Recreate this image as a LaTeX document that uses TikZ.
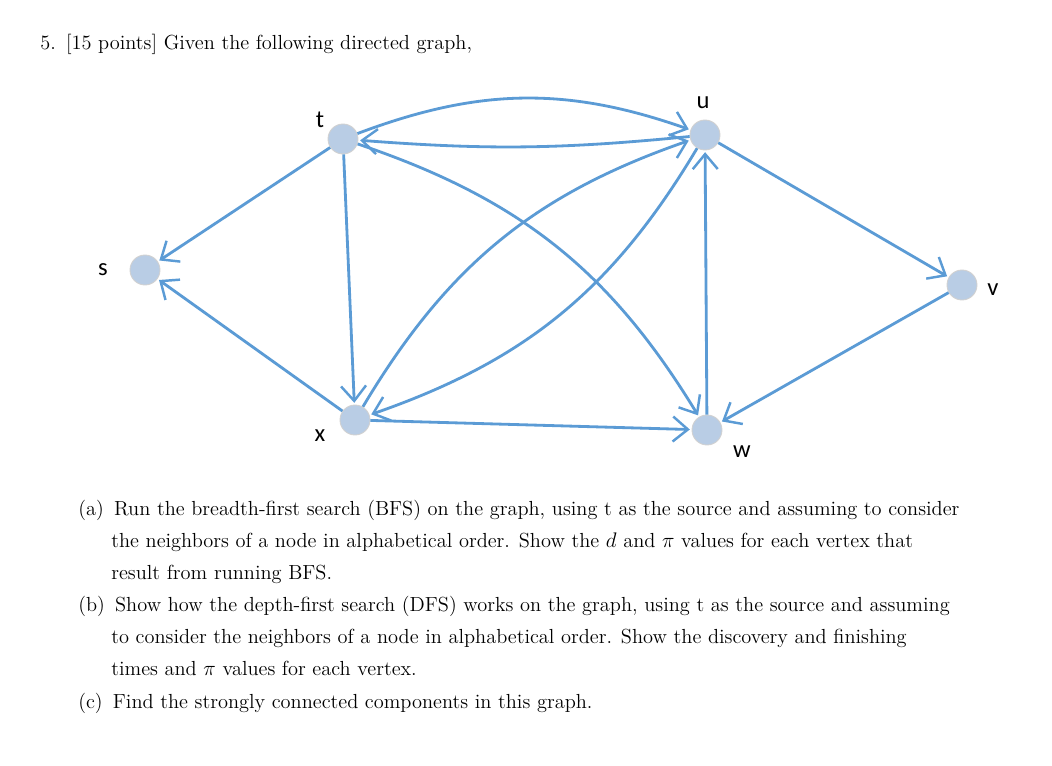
\documentclass[tikz,border=0pt]{standalone}
\usepackage{fontspec}
\newfontfamily\lab{Carlito}
\usetikzlibrary{arrows.meta}
\definecolor{edge}{HTML}{5B9BD5}
\definecolor{vfill}{HTML}{B9CDE5}
\begin{document}
\begin{tikzpicture}[x=0.02cm,y=-0.02cm,
  vert/.style={circle,fill=vfill,draw=black!18,line width=0.5pt,minimum size=0.6cm,inner sep=0pt},
  vlab/.style={font=\lab\fontsize{14}{14}\selectfont},
  arr/.style={draw=edge,line width=1.6pt,-{Straight Barb[length=3mm,width=5mm,line width=1.4pt]},shorten >=1pt},
  txt/.style={anchor=base west,inner sep=0pt,font=\fontsize{11.6}{13}\selectfont}]
\useasboundingbox (0,0) rectangle (1052,766);
\node[vert] (t) at (343,139) {};
\node[vert] (u) at (705,135) {};
\node[vert] (s) at (145,270) {};
\node[vert] (v) at (962,285) {};
\node[vert] (x) at (355,420) {};
\node[vert] (w) at (707,430) {};
\node[vlab] (lt) at (320,120) {t};
\node[vlab] (lu) at (703,103) {u};
\node[vlab] (ls) at (103,270) {s};
\node[vlab] (lv) at (993,290) {v};
\node[vlab] (lx) at (320,436) {x};
\node[vlab] (lw) at (742,452) {w};
\draw[arr] (t) -- (s);
\draw[arr] (x) -- (s);
\draw[arr] (t) -- (x);
\draw[arr] (t) to[bend left=20] (u);
\draw[arr] (u) to[bend left=5] (t);
\draw[arr] (t) to[bend left=20] (w);
\draw[arr] (x) to[bend left=20] (u);
\draw[arr] (u) to[bend left=20] (x);
\draw[arr] (u) -- (v);
\draw[arr] (v) -- (w);
\draw[arr] (x) -- (w);
\draw[arr] (w) -- (u);
\node[txt] (h) at (40,50) {5.\enspace[15 points] Given the following directed graph,};
\node[txt] (a1) at (78,516) {(a)\enspace Run the breadth-first search (BFS) on the graph, using t as the source and assuming to consider};
\node[txt] (a2) at (111,548) {the neighbors of a node in alphabetical order. Show the $d$ and $\pi$ values for each vertex that};
\node[txt] (a3) at (111,580) {result from running BFS.};
\node[txt] (b1) at (78,612) {(b)\enspace Show how the depth-first search (DFS) works on the graph, using t as the source and assuming};
\node[txt] (b2) at (111,644) {to consider the neighbors of a node in alphabetical order. Show the discovery and finishing};
\node[txt] (b3) at (111,676) {times and $\pi$ values for each vertex.};
\node[txt] (c1) at (78,708) {(c)\enspace Find the strongly connected components in this graph.};
\end{tikzpicture}
\end{document}
